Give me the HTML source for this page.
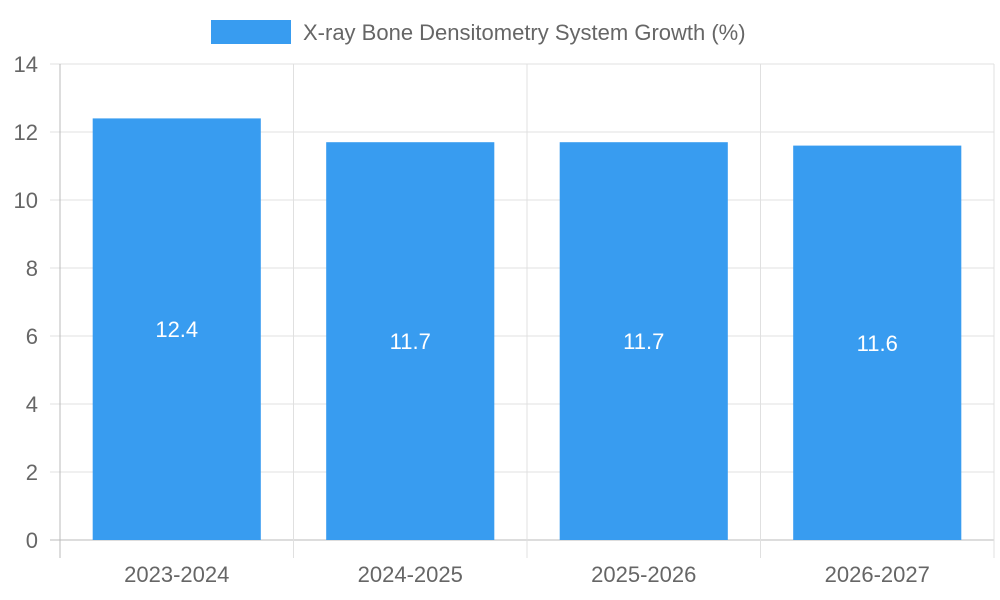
<!DOCTYPE html>
<html><head><meta charset="utf-8"><style>
html,body{margin:0;padding:0;background:#fff;}
svg{display:block;font-family:"Liberation Sans",sans-serif;}
</style></head><body>
<svg id="chart" width="1000" height="600">
<g id="grid"></g>
<g id="bars"></g>
<g id="axes"></g>
<g>
<rect x="211" y="20" width="80" height="24" fill="#389cf0"/>
<text x="303" y="40" font-size="22" fill="#666">X-ray Bone Densitometry System Growth (%)</text>
</g>
</svg>
<script>
const categories=["2023-2024","2024-2025","2025-2026","2026-2027"];
const values=[12.4,11.7,11.7,11.6];
const yTicks=[0,2,4,6,8,10,12,14];
const NS="http://www.w3.org/2000/svg";
const L=60,R=994,T=64,B=540,yMax=14;
const y=v=>B-(v/yMax)*(B-T);
const bw=(R-L)/categories.length;
const x=i=>L+i*bw;
function mk(tag,attrs,parent,text){const e=document.createElementNS(NS,tag);for(const k in attrs)e.setAttribute(k,attrs[k]);if(text!==undefined)e.textContent=text;parent.appendChild(e);return e;}
const grid=document.getElementById('grid'),bars=document.getElementById('bars'),axes=document.getElementById('axes');
yTicks.forEach(t=>{
 const l=mk('line',{x1:L-10,x2:R,y1:y(t),y2:y(t),stroke:t===0?'#bbb':'#e0e0e0','stroke-width':1},grid);
 
 
 const tx=mk('text',{x:38,y:y(t)+8,'text-anchor':'end','font-size':22,fill:'#666'},axes,String(t));
 
 
});
for(let i=0;i<=categories.length;i++){
 const l=mk('line',{x1:x(i),x2:x(i),y1:T,y2:B+18,stroke:i===0?'#bbb':'#e0e0e0','stroke-width':1},grid);
 
 
}
categories.forEach((c,i)=>{
 const cx=x(i)+bw/2,w=bw*0.72;
 const r=mk('rect',{x:cx-w/2,y:y(values[i]),width:w,height:B-y(values[i]),fill:'#389cf0'},bars);
 
 
 const v=mk('text',{x:cx,y:(y(values[i])+B)/2+8,'text-anchor':'middle','font-size':22,fill:'#fff'},bars,values[i].toFixed(1));
 
 
 const t=mk('text',{x:cx,y:582,'text-anchor':'middle','font-size':22,fill:'#666'},axes,c);
 
 
});
</script>
</body></html>
